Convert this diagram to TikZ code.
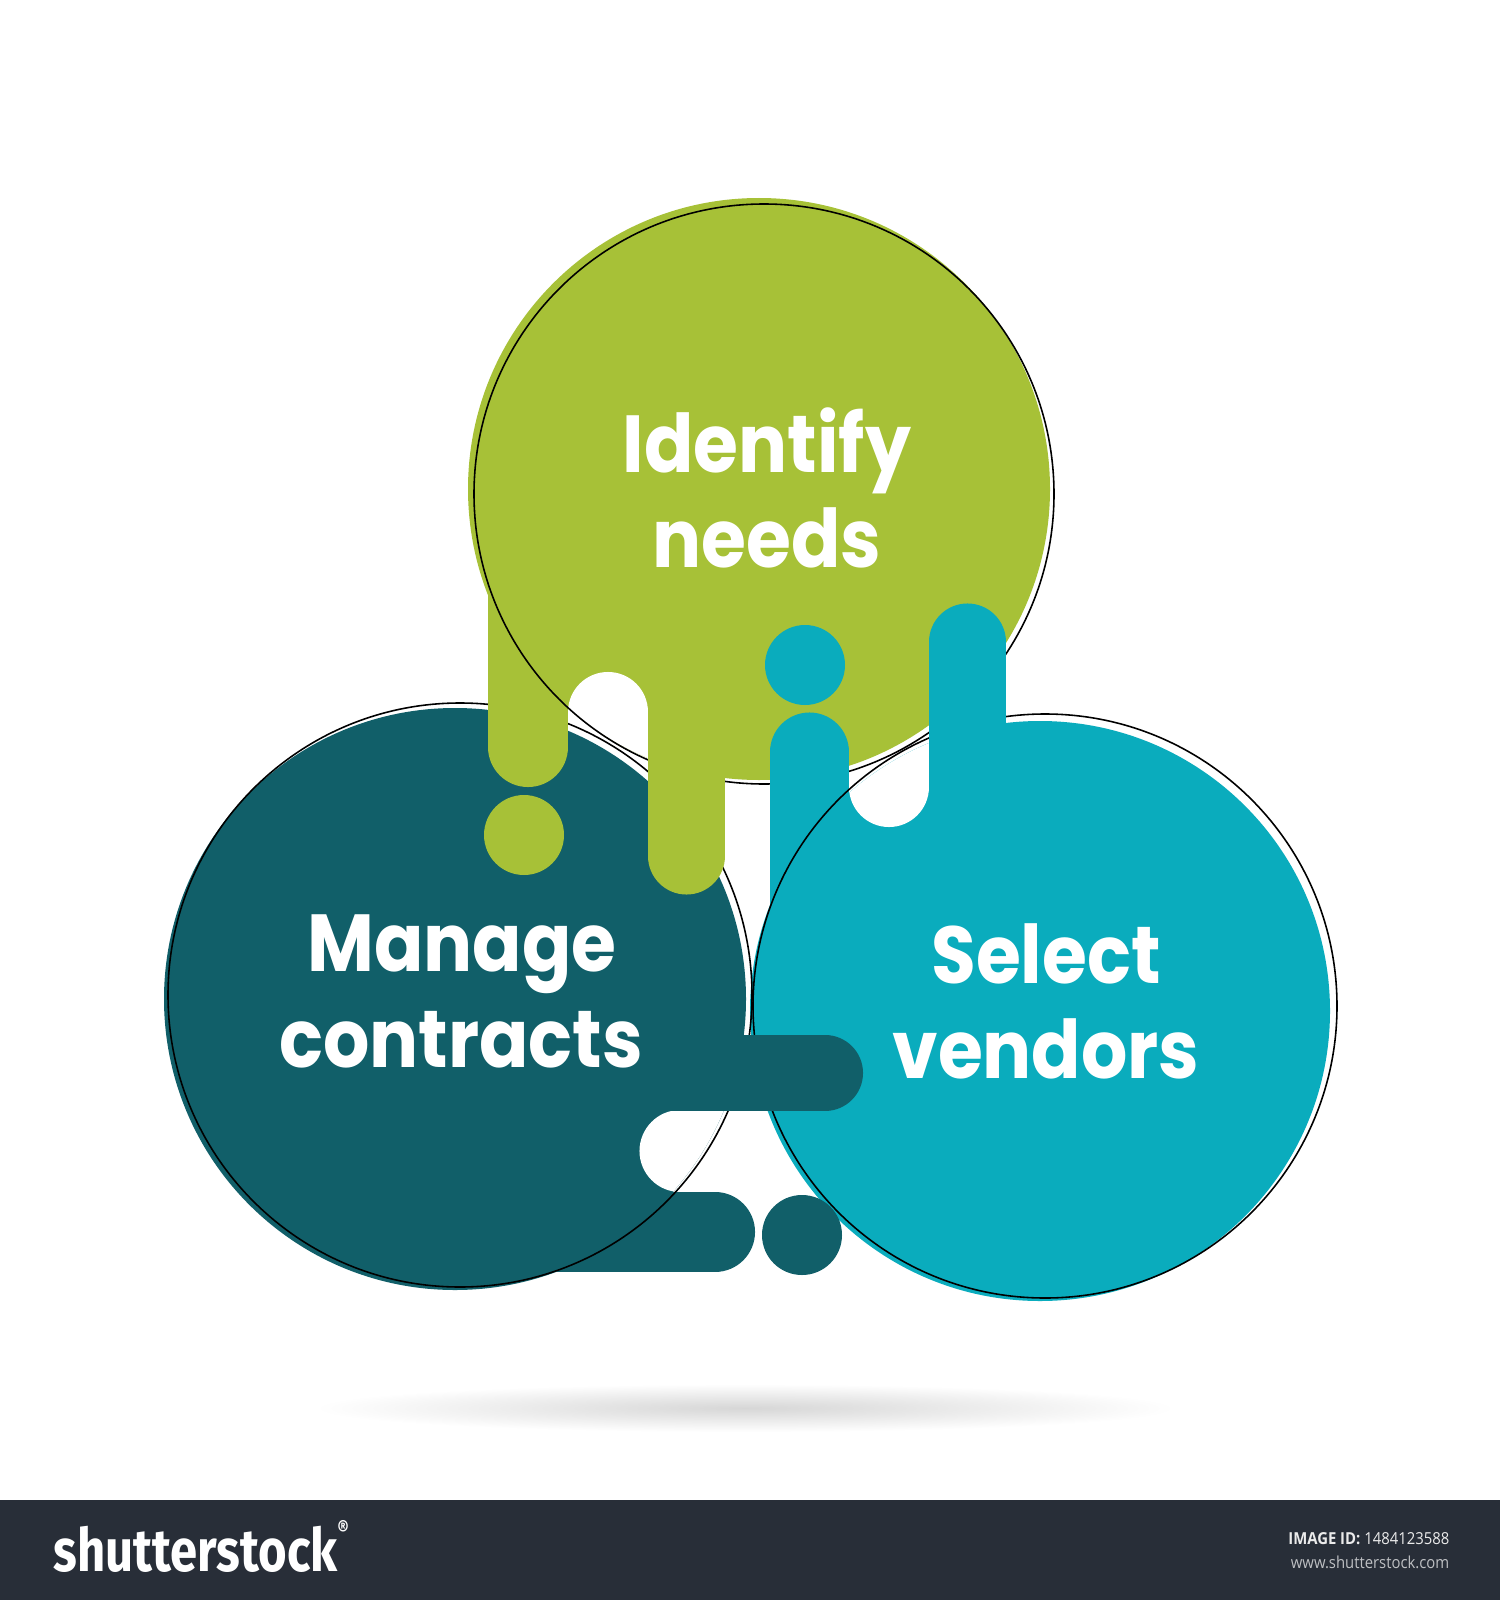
\documentclass[tikz,border=0pt]{standalone}
\usepackage{fontspec}
\setmainfont{Poppins}
\newfontfamily\labelfont[FakeStretch=0.9]{Poppins}
\newfontfamily\logofont[FakeStretch=0.82]{Fira Sans}
\newfontfamily\smallfont[FakeStretch=0.9]{Open Sans}
\usetikzlibrary{positioning}

\definecolor{limegreen}{HTML}{A7C137}
\definecolor{deepteal}{HTML}{115F69}
\definecolor{skyteal}{HTML}{0AACBD}
\definecolor{barnavy}{HTML}{282E38}

\tikzset{
  lbl/.style={text=white, anchor=base, inner sep=0pt, font=\labelfont\fontsize{23}{27}\selectfont\bfseries},
  ring/.style={draw=black, line width=0.45pt},
  drip/.style={line cap=round, line width=#1},
  drip/.default=0.8cm
}

\begin{document}
\begin{tikzpicture}[x=0.01cm,y=-0.01cm]
\useasboundingbox (0,0) rectangle (1500,1600);
\fill[white] (0,0) rectangle (1500,1600);

% shadow under the circles
\shade[inner color=black!16, outer color=white] (745,1408) ellipse (430 and 24);

% the three circles
\fill[deepteal] (455,999) circle (291);
\fill[skyteal] (1040,1011) circle (290);
\fill[limegreen] (759,489) circle (291);

% white cut-outs
\begin{scope}
\clip (759,489) circle (291);
\draw[white, drip] (608,712) -- (608,950);
\end{scope}
\begin{scope}
\clip (1040,1011) circle (290);
\draw[white, drip] (889,787) -- (889,600);
\end{scope}
\begin{scope}
\clip (455,999) circle (291);
\draw[white, drip=0.81cm] (680,1151) -- (900,1151);
\end{scope}

% dark drips
\draw[deepteal, drip] (480,1232) -- (715,1232);
\fill[deepteal] (802,1235) circle (40);
\draw[ring] (460,995) circle (292);

% green drips
\draw[limegreen, drip] (528,560) -- (528,747);
\fill[limegreen] (524,835) circle (40);
\draw[ring] (764,494) circle (290);

% teal drips
\draw[skyteal, drip=0.79cm] (809.5,752) -- (809.5,1000);
\fill[skyteal] (805,665) circle (40);
\draw[ring] (1045,1006) circle (292);

\draw[limegreen, drip=0.77cm] (686.5,660) -- (686.5,856);
\draw[skyteal, drip=0.77cm] (967.5,642) -- (967.5,800);
\draw[deepteal, drip=0.76cm] (600,1073) -- (825,1073);

% labels
\node[lbl] (identA) at (767,472) {Identify};
\node[lbl] (identB) at (767,567) {needs};
\node[lbl] (manageA) at (462,971) {Manage};
\node[lbl] (manageB) at (461,1067) {contracts};
\node[lbl] (selectA) at (1046,983) {Select};
\node[lbl] (selectB) at (1046,1078) {vendors};

% footer bar
\fill[barnavy] (0,1500) rectangle (1500,1600);
\node[anchor=base west, inner sep=0pt, text=white, font=\logofont\fontsize{17}{17}\selectfont\bfseries] (logo) at (53,1571) {shutterstock\raisebox{1.1ex}{\fontsize{6}{6}\selectfont\textregistered}};
\node[anchor=base east, inner sep=0pt, text=white!92!black, font=\smallfont\fontsize{4.7}{5}\selectfont] (imgid) at (1450,1544) {\textbf{IMAGE ID:} 1484123588};
\node[anchor=base east, inner sep=0pt, text=white!70!barnavy, font=\smallfont\fontsize{4.7}{5}\selectfont] (site) at (1450,1568) {www.shutterstock.com};
\end{tikzpicture}
\end{document}
